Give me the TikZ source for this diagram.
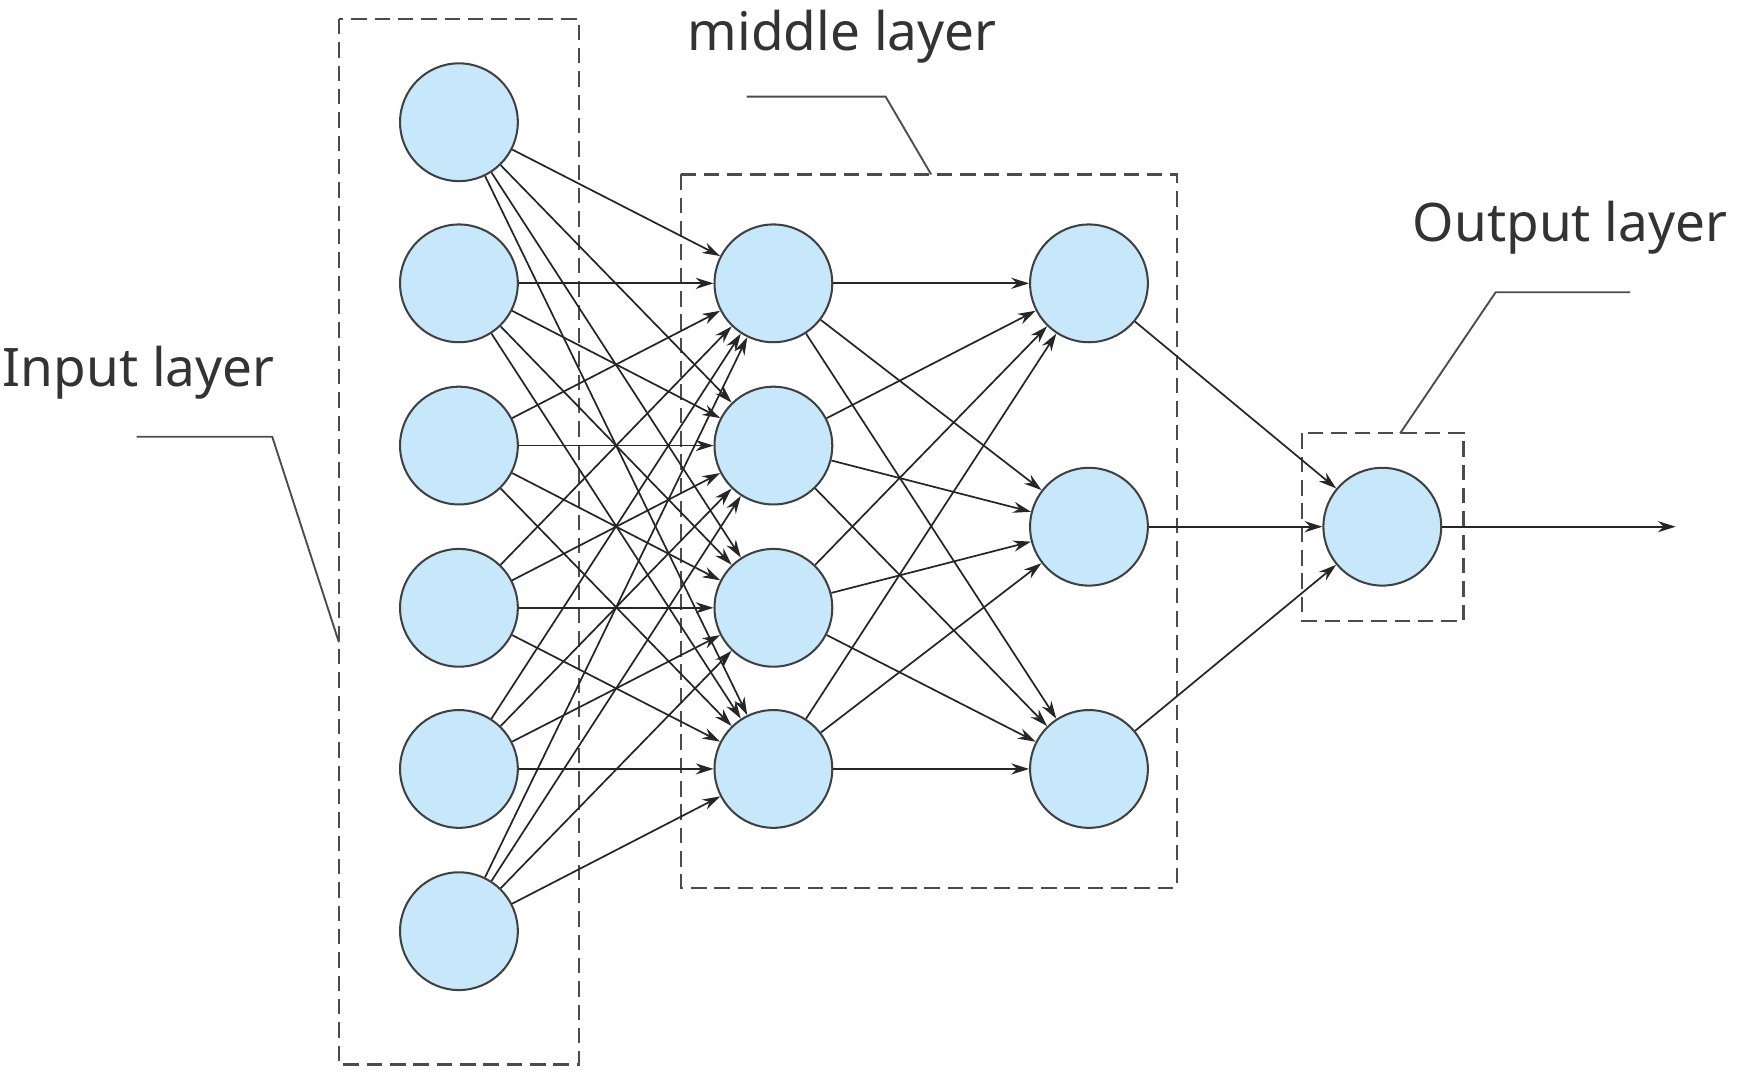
\documentclass[tikz,border=0pt]{standalone}
\usepackage{fontspec}
\setmainfont{Noto Sans}
\usetikzlibrary{arrows.meta}
\begin{document}
\begin{tikzpicture}[x=0.05cm,y=-0.05cm,
  neuron/.style={circle,draw=black!75,line width=2.6pt,minimum size=5.3cm,inner sep=0pt},
  conn/.style={draw=black!85,line width=2.2pt,-{Stealth[length=0.8cm,width=0.5cm]}},
  box/.style={draw=black!70,line width=2.8pt,dash pattern=on 0.7cm off 0.35cm},
  call/.style={draw=black!70,line width=2.4pt},
  lab/.style={font=\fontsize{68}{72}\selectfont,text=black!80}]
\definecolor{nfill}{HTML}{C6E8FA}
\tikzset{neuron/.append style={fill=nfill}}
\useasboundingbox (0,0) rectangle (1565,967);
\draw[box] (305,17) rectangle (521,958);
\draw[box] (613,157) rectangle (1059,799);
\draw[box] (1172,390) rectangle (1317,559);
\foreach \i/\y in {1/110,2/255,3/401,4/547,5/692,6/838} \node[neuron] (a\i) at (413,\y) {};
\foreach \i/\y in {1/255,2/401,3/547,4/692} \node[neuron] (b\i) at (696,\y) {};
\foreach \i/\y in {1/255,2/474,3/692} \node[neuron] (c\i) at (980,\y) {};
\node[neuron] (o) at (1244,474) {};
\coordinate (end) at (1508,474);
\foreach \i in {1,...,6} \foreach \j in {1,...,4} \draw[conn] (a\i) -- (b\j);
\foreach \i in {1,...,4} \foreach \j in {1,...,3} \draw[conn] (b\i) -- (c\j);
\foreach \i in {1,...,3} \draw[conn] (c\i) -- (o);
\draw[conn] (o) -- (end);
\coordinate (p1) at (123,393); \coordinate (p2) at (245,393); \coordinate (p3) at (305,578);
\draw[call] (p1) -- (p2) -- (p3);
\coordinate (q1) at (672,87); \coordinate (q2) at (797,87); \coordinate (q3) at (838,157);
\draw[call] (q1) -- (q2) -- (q3);
\coordinate (r1) at (1467,263); \coordinate (r2) at (1346,263); \coordinate (r3) at (1260,390);
\draw[call] (r1) -- (r2) -- (r3);
\node[lab,anchor=west] (t1) at (0,335) {Input layer};
\node[lab] (t2) at (758,33) {middle layer};
\node[lab] (t3) at (1413,205) {Output layer};
\end{tikzpicture}
\end{document}
